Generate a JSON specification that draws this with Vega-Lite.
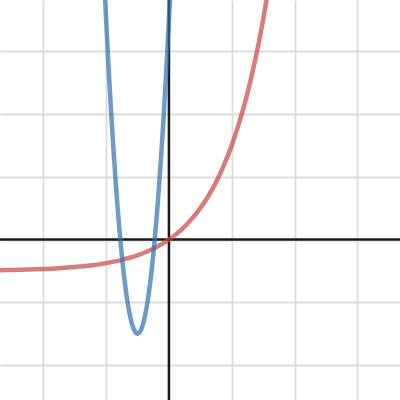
{
  "$schema": "https://vega.github.io/schema/vega-lite/v6.json",
  "width": 400, "height": 400,
  "autosize": {"type": "none"},
  "padding": 0,
  "background": "white",
  "config": {"view": {"stroke": null}},
  "datasets": {
    "curves": [
      {"series": "red", "x": -5.4, "y": -0.9763},
      {"series": "red", "x": -5.0, "y": -0.96875},
      {"series": "red", "x": -4.5, "y": -0.9558},
      {"series": "red", "x": -4.0, "y": -0.9375},
      {"series": "red", "x": -3.5, "y": -0.9116},
      {"series": "red", "x": -3.0, "y": -0.875},
      {"series": "red", "x": -2.5, "y": -0.8232},
      {"series": "red", "x": -2.0, "y": -0.75},
      {"series": "red", "x": -1.75, "y": -0.7027},
      {"series": "red", "x": -1.5, "y": -0.6464},
      {"series": "red", "x": -1.25, "y": -0.5796},
      {"series": "red", "x": -1.0, "y": -0.5},
      {"series": "red", "x": -0.75, "y": -0.4054},
      {"series": "red", "x": -0.5, "y": -0.2929},
      {"series": "red", "x": -0.25, "y": -0.1591},
      {"series": "red", "x": 0.0, "y": 0.0},
      {"series": "red", "x": 0.25, "y": 0.1892},
      {"series": "red", "x": 0.5, "y": 0.4142},
      {"series": "red", "x": 0.75, "y": 0.6818},
      {"series": "red", "x": 1.0, "y": 1.0},
      {"series": "red", "x": 1.25, "y": 1.3784},
      {"series": "red", "x": 1.5, "y": 1.8284},
      {"series": "red", "x": 1.75, "y": 2.3636},
      {"series": "red", "x": 2.0, "y": 3.0},
      {"series": "red", "x": 2.25, "y": 3.7568},
      {"series": "red", "x": 2.5, "y": 4.6569},
      {"series": "red", "x": 2.75, "y": 5.7272},
      {"series": "red", "x": 3.0, "y": 7.0},
      {"series": "red", "x": 3.25, "y": 8.5137},
      {"series": "blue", "x": -2.05, "y": 8.025},
      {"series": "blue", "x": -2.0, "y": 7.0},
      {"series": "blue", "x": -1.95, "y": 6.025},
      {"series": "blue", "x": -1.9, "y": 5.1},
      {"series": "blue", "x": -1.85, "y": 4.225},
      {"series": "blue", "x": -1.8, "y": 3.4},
      {"series": "blue", "x": -1.75, "y": 2.625},
      {"series": "blue", "x": -1.7, "y": 1.9},
      {"series": "blue", "x": -1.65, "y": 1.225},
      {"series": "blue", "x": -1.6, "y": 0.6},
      {"series": "blue", "x": -1.55, "y": 0.025},
      {"series": "blue", "x": -1.5, "y": -0.5},
      {"series": "blue", "x": -1.45, "y": -0.975},
      {"series": "blue", "x": -1.4, "y": -1.4},
      {"series": "blue", "x": -1.35, "y": -1.775},
      {"series": "blue", "x": -1.3, "y": -2.1},
      {"series": "blue", "x": -1.25, "y": -2.375},
      {"series": "blue", "x": -1.2, "y": -2.6},
      {"series": "blue", "x": -1.15, "y": -2.775},
      {"series": "blue", "x": -1.1, "y": -2.9},
      {"series": "blue", "x": -1.05, "y": -2.975},
      {"series": "blue", "x": -1.0, "y": -3.0},
      {"series": "blue", "x": -0.95, "y": -2.975},
      {"series": "blue", "x": -0.9, "y": -2.9},
      {"series": "blue", "x": -0.85, "y": -2.775},
      {"series": "blue", "x": -0.8, "y": -2.6},
      {"series": "blue", "x": -0.75, "y": -2.375},
      {"series": "blue", "x": -0.7, "y": -2.1},
      {"series": "blue", "x": -0.65, "y": -1.775},
      {"series": "blue", "x": -0.6, "y": -1.4},
      {"series": "blue", "x": -0.55, "y": -0.975},
      {"series": "blue", "x": -0.5, "y": -0.5},
      {"series": "blue", "x": -0.45, "y": 0.025},
      {"series": "blue", "x": -0.4, "y": 0.6},
      {"series": "blue", "x": -0.35, "y": 1.225},
      {"series": "blue", "x": -0.3, "y": 1.9},
      {"series": "blue", "x": -0.25, "y": 2.625},
      {"series": "blue", "x": -0.2, "y": 3.4},
      {"series": "blue", "x": -0.15, "y": 4.225},
      {"series": "blue", "x": -0.1, "y": 5.1},
      {"series": "blue", "x": -0.05, "y": 6.025},
      {"series": "blue", "x": 0.0, "y": 7.0},
      {"series": "blue", "x": 0.05, "y": 8.025}
    ],
    "axes": [{"at": 0}]
  },
  "layer": [
    {
      "data": {"name": "axes"},
      "mark": {"type": "rule", "color": "#1a1a1a", "strokeWidth": 2.5},
      "encoding": {
        "x": {"field": "at", "type": "quantitative",
              "scale": {"domain": [-5.38, 7.36], "nice": false, "zero": false},
              "axis": {"values": [-4, -2, 0, 2, 4, 6], "grid": true, "gridColor": "#dcdcdc", "gridWidth": 1.8, "gridOpacity": 1,
                       "labels": false, "ticks": false, "domain": false, "title": null, "minExtent": 0, "maxExtent": 0}}
      }
    },
    {
      "data": {"name": "axes"},
      "mark": {"type": "rule", "color": "#1a1a1a", "strokeWidth": 2.5},
      "encoding": {
        "y": {"field": "at", "type": "quantitative",
              "scale": {"domain": [-5.11, 7.63], "nice": false, "zero": false},
              "axis": {"values": [-4, -2, 0, 2, 4, 6], "grid": true, "gridColor": "#dcdcdc", "gridWidth": 1.8, "gridOpacity": 1,
                       "labels": false, "ticks": false, "domain": false, "title": null, "minExtent": 0, "maxExtent": 0}}
      }
    },
    {
      "data": {"name": "curves"},
      "transform": [{"filter": "datum.series == 'red'"}],
      "mark": {"type": "line", "color": "#c74440", "opacity": 0.7, "strokeWidth": 4.5, "clip": true, "interpolate": "monotone"},
      "encoding": {
        "x": {"field": "x", "type": "quantitative"},
        "y": {"field": "y", "type": "quantitative"}
      }
    },
    {
      "data": {"name": "curves"},
      "transform": [{"filter": "datum.series == 'blue'"}],
      "mark": {"type": "line", "color": "#2d70b3", "opacity": 0.7, "strokeWidth": 4.5, "clip": true, "interpolate": "monotone"},
      "encoding": {
        "x": {"field": "x", "type": "quantitative"},
        "y": {"field": "y", "type": "quantitative"}
      }
    }
  ]
}
